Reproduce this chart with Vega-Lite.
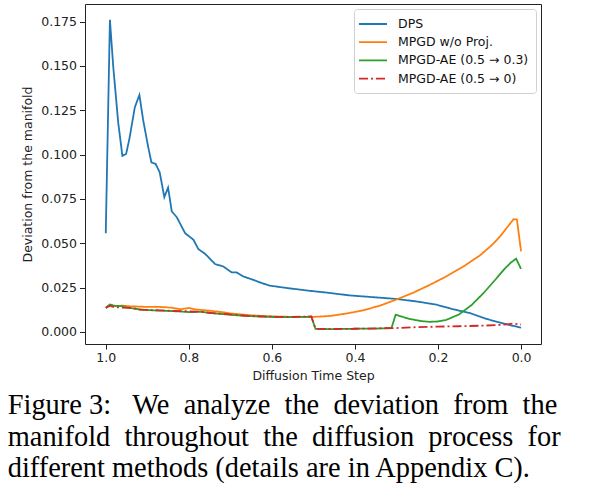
{
  "$schema": "https://vega.github.io/schema/vega-lite/v6.json",
  "width": 456,
  "height": 340,
  "autosize": {"type": "none"},
  "padding": {"left": 85, "top": 4, "right": 50, "bottom": 152},
  "background": "white",
  "config": {"view": {"stroke": "#222", "strokeWidth": 1}, "font": "DejaVu Sans"},
  "title": {
    "text": ["Figure 3: \u00a0\u00a0We \u00a0analyze \u00a0the \u00a0deviation \u00a0from \u00a0the", "manifold \u00a0throughout \u00a0the \u00a0diffusion \u00a0process \u00a0for", "different methods (details are in Appendix C)."],
    "orient": "bottom", "anchor": "start", "frame": "bounds",
    "font": "Liberation Serif", "fontSize": 28.4, "fontWeight": "normal", "color": "#000",
    "lineHeight": 31.7, "offset": 10, "dx": -14
  },
  "data": {"values": [
    {"t": 1.0, "v": 0.0557, "s": "DPS"},
    {"t": 0.990, "v": 0.176, "s": "DPS"},
    {"t": 0.982, "v": 0.1496, "s": "DPS"},
    {"t": 0.970, "v": 0.118, "s": "DPS"},
    {"t": 0.960, "v": 0.0993, "s": "DPS"},
    {"t": 0.951, "v": 0.1004, "s": "DPS"},
    {"t": 0.943, "v": 0.109, "s": "DPS"},
    {"t": 0.930, "v": 0.1267, "s": "DPS"},
    {"t": 0.919, "v": 0.1336, "s": "DPS"},
    {"t": 0.910, "v": 0.1195, "s": "DPS"},
    {"t": 0.898, "v": 0.1045, "s": "DPS"},
    {"t": 0.890, "v": 0.0955, "s": "DPS"},
    {"t": 0.880, "v": 0.0948, "s": "DPS"},
    {"t": 0.870, "v": 0.0899, "s": "DPS"},
    {"t": 0.859, "v": 0.076, "s": "DPS"},
    {"t": 0.850, "v": 0.0814, "s": "DPS"},
    {"t": 0.841, "v": 0.0679, "s": "DPS"},
    {"t": 0.829, "v": 0.0647, "s": "DPS"},
    {"t": 0.809, "v": 0.0557, "s": "DPS"},
    {"t": 0.789, "v": 0.052, "s": "DPS"},
    {"t": 0.777, "v": 0.0467, "s": "DPS"},
    {"t": 0.761, "v": 0.0441, "s": "DPS"},
    {"t": 0.737, "v": 0.0383, "s": "DPS"},
    {"t": 0.717, "v": 0.0369, "s": "DPS"},
    {"t": 0.697, "v": 0.0336, "s": "DPS"},
    {"t": 0.685, "v": 0.0336, "s": "DPS"},
    {"t": 0.669, "v": 0.0313, "s": "DPS"},
    {"t": 0.645, "v": 0.0294, "s": "DPS"},
    {"t": 0.625, "v": 0.0276, "s": "DPS"},
    {"t": 0.605, "v": 0.0261, "s": "DPS"},
    {"t": 0.565, "v": 0.0248, "s": "DPS"},
    {"t": 0.517, "v": 0.0234, "s": "DPS"},
    {"t": 0.465, "v": 0.0221, "s": "DPS"},
    {"t": 0.413, "v": 0.0206, "s": "DPS"},
    {"t": 0.373, "v": 0.0199, "s": "DPS"},
    {"t": 0.300, "v": 0.0186, "s": "DPS"},
    {"t": 0.252, "v": 0.0172, "s": "DPS"},
    {"t": 0.204, "v": 0.0154, "s": "DPS"},
    {"t": 0.164, "v": 0.0128, "s": "DPS"},
    {"t": 0.124, "v": 0.0107, "s": "DPS"},
    {"t": 0.084, "v": 0.0074, "s": "DPS"},
    {"t": 0.044, "v": 0.0048, "s": "DPS"},
    {"t": 0.0, "v": 0.0024, "s": "DPS"},

    {"t": 1.0, "v": 0.0138, "s": "MPGD w/o Proj."},
    {"t": 0.99, "v": 0.0150, "s": "MPGD w/o Proj."},
    {"t": 0.98, "v": 0.0146, "s": "MPGD w/o Proj."},
    {"t": 0.96, "v": 0.0148, "s": "MPGD w/o Proj."},
    {"t": 0.94, "v": 0.0144, "s": "MPGD w/o Proj."},
    {"t": 0.92, "v": 0.0143, "s": "MPGD w/o Proj."},
    {"t": 0.90, "v": 0.0141, "s": "MPGD w/o Proj."},
    {"t": 0.88, "v": 0.0142, "s": "MPGD w/o Proj."},
    {"t": 0.86, "v": 0.0140, "s": "MPGD w/o Proj."},
    {"t": 0.84, "v": 0.0136, "s": "MPGD w/o Proj."},
    {"t": 0.82, "v": 0.0128, "s": "MPGD w/o Proj."},
    {"t": 0.80, "v": 0.0135, "s": "MPGD w/o Proj."},
    {"t": 0.785, "v": 0.0127, "s": "MPGD w/o Proj."},
    {"t": 0.76, "v": 0.0122, "s": "MPGD w/o Proj."},
    {"t": 0.72, "v": 0.0112, "s": "MPGD w/o Proj."},
    {"t": 0.70, "v": 0.0104, "s": "MPGD w/o Proj."},
    {"t": 0.68, "v": 0.0100, "s": "MPGD w/o Proj."},
    {"t": 0.65, "v": 0.0094, "s": "MPGD w/o Proj."},
    {"t": 0.62, "v": 0.0090, "s": "MPGD w/o Proj."},
    {"t": 0.58, "v": 0.0086, "s": "MPGD w/o Proj."},
    {"t": 0.55, "v": 0.0085, "s": "MPGD w/o Proj."},
    {"t": 0.52, "v": 0.0085, "s": "MPGD w/o Proj."},
    {"t": 0.50, "v": 0.0085, "s": "MPGD w/o Proj."},
    {"t": 0.46, "v": 0.0090, "s": "MPGD w/o Proj."},
    {"t": 0.42, "v": 0.0104, "s": "MPGD w/o Proj."},
    {"t": 0.38, "v": 0.0122, "s": "MPGD w/o Proj."},
    {"t": 0.34, "v": 0.0148, "s": "MPGD w/o Proj."},
    {"t": 0.30, "v": 0.0183, "s": "MPGD w/o Proj."},
    {"t": 0.26, "v": 0.0221, "s": "MPGD w/o Proj."},
    {"t": 0.22, "v": 0.0265, "s": "MPGD w/o Proj."},
    {"t": 0.18, "v": 0.0313, "s": "MPGD w/o Proj."},
    {"t": 0.14, "v": 0.0367, "s": "MPGD w/o Proj."},
    {"t": 0.10, "v": 0.0430, "s": "MPGD w/o Proj."},
    {"t": 0.07, "v": 0.0490, "s": "MPGD w/o Proj."},
    {"t": 0.05, "v": 0.0540, "s": "MPGD w/o Proj."},
    {"t": 0.03, "v": 0.0600, "s": "MPGD w/o Proj."},
    {"t": 0.018, "v": 0.0636, "s": "MPGD w/o Proj."},
    {"t": 0.01, "v": 0.0634, "s": "MPGD w/o Proj."},
    {"t": 0.0, "v": 0.0454, "s": "MPGD w/o Proj."},

    {"t": 1.0, "v": 0.0136, "s": "MPGD-AE (0.5 → 0.3)"},
    {"t": 0.99, "v": 0.0155, "s": "MPGD-AE (0.5 → 0.3)"},
    {"t": 0.98, "v": 0.0148, "s": "MPGD-AE (0.5 → 0.3)"},
    {"t": 0.96, "v": 0.0145, "s": "MPGD-AE (0.5 → 0.3)"},
    {"t": 0.95, "v": 0.0138, "s": "MPGD-AE (0.5 → 0.3)"},
    {"t": 0.93, "v": 0.0131, "s": "MPGD-AE (0.5 → 0.3)"},
    {"t": 0.91, "v": 0.0125, "s": "MPGD-AE (0.5 → 0.3)"},
    {"t": 0.88, "v": 0.0121, "s": "MPGD-AE (0.5 → 0.3)"},
    {"t": 0.85, "v": 0.0119, "s": "MPGD-AE (0.5 → 0.3)"},
    {"t": 0.82, "v": 0.0115, "s": "MPGD-AE (0.5 → 0.3)"},
    {"t": 0.80, "v": 0.0112, "s": "MPGD-AE (0.5 → 0.3)"},
    {"t": 0.77, "v": 0.0113, "s": "MPGD-AE (0.5 → 0.3)"},
    {"t": 0.74, "v": 0.0105, "s": "MPGD-AE (0.5 → 0.3)"},
    {"t": 0.71, "v": 0.0099, "s": "MPGD-AE (0.5 → 0.3)"},
    {"t": 0.68, "v": 0.0093, "s": "MPGD-AE (0.5 → 0.3)"},
    {"t": 0.65, "v": 0.0089, "s": "MPGD-AE (0.5 → 0.3)"},
    {"t": 0.62, "v": 0.0086, "s": "MPGD-AE (0.5 → 0.3)"},
    {"t": 0.58, "v": 0.0083, "s": "MPGD-AE (0.5 → 0.3)"},
    {"t": 0.54, "v": 0.0084, "s": "MPGD-AE (0.5 → 0.3)"},
    {"t": 0.505, "v": 0.0086, "s": "MPGD-AE (0.5 → 0.3)"},
    {"t": 0.495, "v": 0.0017, "s": "MPGD-AE (0.5 → 0.3)"},
    {"t": 0.45, "v": 0.0016, "s": "MPGD-AE (0.5 → 0.3)"},
    {"t": 0.40, "v": 0.0018, "s": "MPGD-AE (0.5 → 0.3)"},
    {"t": 0.35, "v": 0.0019, "s": "MPGD-AE (0.5 → 0.3)"},
    {"t": 0.312, "v": 0.0022, "s": "MPGD-AE (0.5 → 0.3)"},
    {"t": 0.302, "v": 0.0097, "s": "MPGD-AE (0.5 → 0.3)"},
    {"t": 0.27, "v": 0.0074, "s": "MPGD-AE (0.5 → 0.3)"},
    {"t": 0.24, "v": 0.0061, "s": "MPGD-AE (0.5 → 0.3)"},
    {"t": 0.22, "v": 0.0057, "s": "MPGD-AE (0.5 → 0.3)"},
    {"t": 0.20, "v": 0.0059, "s": "MPGD-AE (0.5 → 0.3)"},
    {"t": 0.18, "v": 0.0068, "s": "MPGD-AE (0.5 → 0.3)"},
    {"t": 0.15, "v": 0.0098, "s": "MPGD-AE (0.5 → 0.3)"},
    {"t": 0.12, "v": 0.0150, "s": "MPGD-AE (0.5 → 0.3)"},
    {"t": 0.09, "v": 0.0220, "s": "MPGD-AE (0.5 → 0.3)"},
    {"t": 0.06, "v": 0.0300, "s": "MPGD-AE (0.5 → 0.3)"},
    {"t": 0.04, "v": 0.0355, "s": "MPGD-AE (0.5 → 0.3)"},
    {"t": 0.025, "v": 0.0390, "s": "MPGD-AE (0.5 → 0.3)"},
    {"t": 0.012, "v": 0.0413, "s": "MPGD-AE (0.5 → 0.3)"},
    {"t": 0.0, "v": 0.0355, "s": "MPGD-AE (0.5 → 0.3)"},

    {"t": 1.0, "v": 0.0135, "s": "MPGD-AE (0.5 → 0)"},
    {"t": 0.99, "v": 0.0148, "s": "MPGD-AE (0.5 → 0)"},
    {"t": 0.98, "v": 0.0140, "s": "MPGD-AE (0.5 → 0)"},
    {"t": 0.96, "v": 0.0137, "s": "MPGD-AE (0.5 → 0)"},
    {"t": 0.94, "v": 0.0136, "s": "MPGD-AE (0.5 → 0)"},
    {"t": 0.92, "v": 0.0126, "s": "MPGD-AE (0.5 → 0)"},
    {"t": 0.90, "v": 0.0124, "s": "MPGD-AE (0.5 → 0)"},
    {"t": 0.87, "v": 0.0122, "s": "MPGD-AE (0.5 → 0)"},
    {"t": 0.84, "v": 0.0118, "s": "MPGD-AE (0.5 → 0)"},
    {"t": 0.81, "v": 0.0117, "s": "MPGD-AE (0.5 → 0)"},
    {"t": 0.78, "v": 0.0115, "s": "MPGD-AE (0.5 → 0)"},
    {"t": 0.75, "v": 0.0108, "s": "MPGD-AE (0.5 → 0)"},
    {"t": 0.72, "v": 0.0102, "s": "MPGD-AE (0.5 → 0)"},
    {"t": 0.69, "v": 0.0097, "s": "MPGD-AE (0.5 → 0)"},
    {"t": 0.66, "v": 0.0091, "s": "MPGD-AE (0.5 → 0)"},
    {"t": 0.63, "v": 0.0088, "s": "MPGD-AE (0.5 → 0)"},
    {"t": 0.59, "v": 0.0085, "s": "MPGD-AE (0.5 → 0)"},
    {"t": 0.55, "v": 0.0085, "s": "MPGD-AE (0.5 → 0)"},
    {"t": 0.505, "v": 0.0087, "s": "MPGD-AE (0.5 → 0)"},
    {"t": 0.495, "v": 0.0017, "s": "MPGD-AE (0.5 → 0)"},
    {"t": 0.45, "v": 0.0017, "s": "MPGD-AE (0.5 → 0)"},
    {"t": 0.40, "v": 0.0018, "s": "MPGD-AE (0.5 → 0)"},
    {"t": 0.35, "v": 0.0020, "s": "MPGD-AE (0.5 → 0)"},
    {"t": 0.30, "v": 0.0022, "s": "MPGD-AE (0.5 → 0)"},
    {"t": 0.25, "v": 0.0027, "s": "MPGD-AE (0.5 → 0)"},
    {"t": 0.20, "v": 0.0030, "s": "MPGD-AE (0.5 → 0)"},
    {"t": 0.15, "v": 0.0032, "s": "MPGD-AE (0.5 → 0)"},
    {"t": 0.10, "v": 0.0035, "s": "MPGD-AE (0.5 → 0)"},
    {"t": 0.06, "v": 0.0038, "s": "MPGD-AE (0.5 → 0)"},
    {"t": 0.03, "v": 0.0044, "s": "MPGD-AE (0.5 → 0)"},
    {"t": 0.02, "v": 0.0047, "s": "MPGD-AE (0.5 → 0)"},
    {"t": 0.0, "v": 0.0042, "s": "MPGD-AE (0.5 → 0)"}
  ]},
  "mark": {"type": "line", "strokeWidth": 1.8, "clip": true},
  "encoding": {
    "x": {
      "field": "t", "type": "quantitative",
      "scale": {"domain": [-0.048, 1.05], "reverse": true, "nice": false, "zero": false},
      "axis": {
        "values": [0, 0.2, 0.4, 0.6, 0.8, 1.0], "format": ".1f", "title": "Diffusion Time Step",
        "grid": false, "domain": false, "tickColor": "#222", "tickSize": 5, "labelPadding": 2,
        "labelFlush": false, "labelFontSize": 12.5, "labelColor": "#222", "labelFont": "DejaVu Sans",
        "titleFont": "DejaVu Sans", "titleFontSize": 12.5, "titleFontWeight": "normal", "titleColor": "#222", "titlePadding": 6
      }
    },
    "y": {
      "field": "v", "type": "quantitative",
      "scale": {"domain": [-0.0068, 0.1849], "nice": false, "zero": false},
      "axis": {
        "values": [0, 0.025, 0.05, 0.075, 0.1, 0.125, 0.15, 0.175], "format": ".3f", "title": "Deviation from the manifold",
        "grid": false, "domain": false, "tickColor": "#222", "tickSize": 5.5, "labelPadding": 3,
        "labelFlush": false, "labelFontSize": 12.5, "labelColor": "#222", "labelFont": "DejaVu Sans",
        "titleFont": "DejaVu Sans", "titleFontSize": 12.5, "titleFontWeight": "normal", "titleColor": "#222", "titlePadding": 6
      }
    },
    "color": {
      "field": "s", "type": "nominal",
      "scale": {"domain": ["DPS", "MPGD w/o Proj.", "MPGD-AE (0.5 → 0.3)", "MPGD-AE (0.5 → 0)"], "range": ["#1f77b4", "#ff7f0e", "#2ca02c", "#d62728"]},
      "legend": {
        "title": null, "orient": "top-right", "offset": 5,
        "fillColor": "white", "strokeColor": "#d0d0d0", "cornerRadius": 3, "padding": 7,
        "symbolType": "M-2,0H2", "symbolSize": 196, "symbolStrokeWidth": 1.8, "symbolOffset": 4,
        "labelFontSize": 12.5, "labelFont": "DejaVu Sans", "labelColor": "#111", "labelOffset": 17, "rowPadding": 3.2
      }
    },
    "strokeDash": {
      "field": "s", "type": "nominal",
      "scale": {"domain": ["DPS", "MPGD w/o Proj.", "MPGD-AE (0.5 → 0.3)", "MPGD-AE (0.5 → 0)"], "range": [[1, 0], [1, 0], [1, 0], [9, 3, 2, 3]]}
    }
  }
}
